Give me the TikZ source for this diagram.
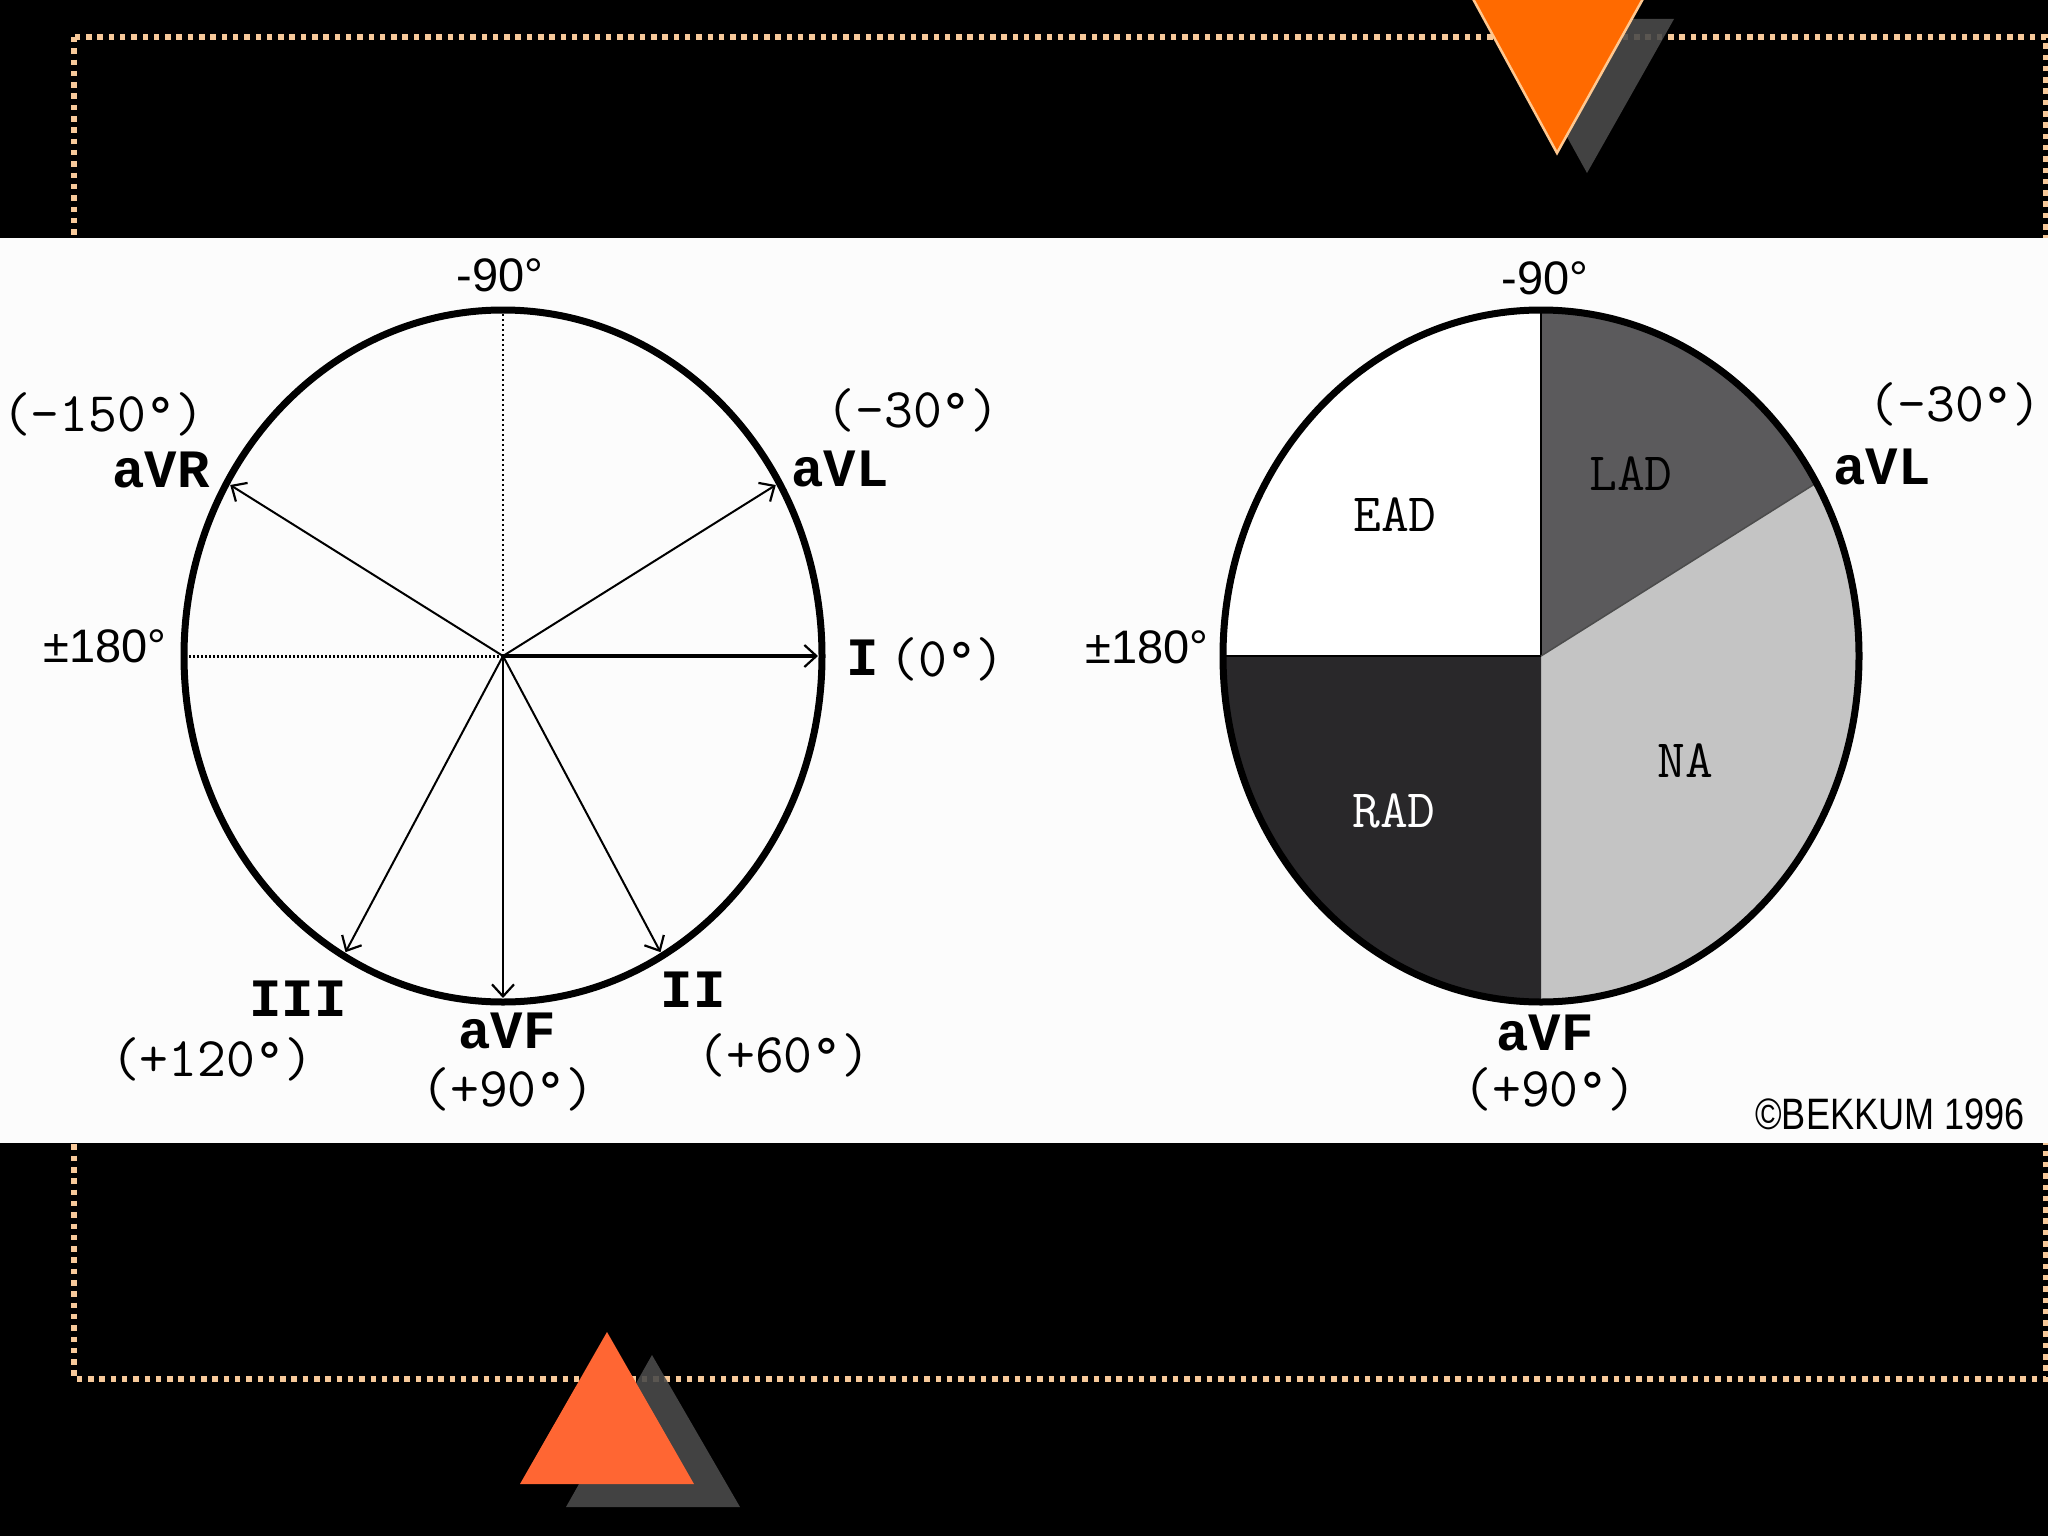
\documentclass[tikz,border=0pt]{standalone}
\usepackage{fontspec}
\setmainfont{Liberation Serif}
\newfontfamily\monof{Liberation Mono}
\newfontfamily\sansf{Liberation Sans}
\usetikzlibrary{arrows.meta}
\definecolor{framecol}{HTML}{F7C99A}
\definecolor{orangeA}{HTML}{FF6A00}
\definecolor{orangeB}{HTML}{FF6633}
\definecolor{peach}{HTML}{FFC890}
\definecolor{shadowgray}{HTML}{4A4A4A}
\definecolor{bandwhite}{HTML}{FCFCFC}
\definecolor{ladgray}{HTML}{5B5A5C}
\definecolor{nagray}{HTML}{C4C4C4}
\definecolor{radgray}{HTML}{29282A}
\tikzset{
  deg/.style={inner sep=0pt, outer sep=0pt, font=\ttfamily\fontsize{56}{60}\selectfont},
  lead/.style={inner sep=0pt, outer sep=0pt, font=\monof\bfseries\fontsize{54}{58}\selectfont},
  sdeg/.style={inner sep=0pt, outer sep=0pt, font=\sansf\fontsize{47}{52}\selectfont},
  zone/.style={inner sep=0pt, outer sep=0pt, font=\ttfamily\fontsize{54}{58}\selectfont},
  rim/.style={line width=7pt},
  arr/.style={line width=2pt, -{Straight Barb[length=12pt,width=22pt,line width=2.2pt]}},
  dotline/.style={line width=2.5pt, dash pattern=on 2.5pt off 2.5pt},
}
\begin{document}
\begin{tikzpicture}[x=1pt,y=-1pt]
\useasboundingbox (0,0) rectangle (2048,1536);
\fill[black] (0,0) rectangle (2048,1536);
% frame
\draw[framecol, line width=5.5pt, dash pattern=on 5.5pt off 5.8pt] (74,37) rectangle (2046,1379);
% triangles
\fill[shadowgray, opacity=0.9] (1502,19) -- (1674,19) -- (1587,173) -- cycle;
\filldraw[fill=orangeA, draw=peach, line width=2.5pt, line join=miter] (1472,-3) -- (1644,-3) -- (1557,153) -- cycle;
\fill[shadowgray, opacity=0.9] (652,1355) -- (740,1507) -- (566,1507) -- cycle;
\fill[orangeB] (607,1332) -- (694,1484) -- (520,1484) -- cycle;
% white band
\fill[bandwhite] (0,238) rectangle (2048,1143);

% ---------- left diagram ----------
\coordinate (Lc) at (503,656);
\coordinate (Ltop) at (503,313);
\coordinate (Lleft) at (188,656);
\coordinate (LI) at ({503+315},656);
\coordinate (LaVL) at ({503+315*cos(-30)},{656+342*sin(-30)});
\coordinate (LaVR) at ({503+315*cos(-150)},{656+342*sin(-150)});
\coordinate (LII) at ({503+315*cos(60)},{656+342*sin(60)});
\coordinate (LIII) at ({503+315*cos(120)},{656+342*sin(120)});
\coordinate (LaVF) at (503,{656+342});
\draw[dotline] (Lc) -- (Ltop);
\draw[dotline, line width=3pt, dash pattern=on 2pt off 2pt] (Lc) -- (Lleft);
\draw[arr] (Lc) -- (LaVL);
\draw[arr] (Lc) -- (LaVR);
\draw[arr] (Lc) -- (LII);
\draw[arr] (Lc) -- (LIII);
\draw[arr] (Lc) -- (LaVF);
\draw[arr, line width=3.5pt] (Lc) -- (LI);
\draw[rim] (Lc) ellipse [x radius=319, y radius=346];

\node[sdeg] (Lm90) at (500,275) {-90°};
\node[deg] (Lm150) at (103,414) {(-150°)};
\node[lead] (LtaVR) at (161,470) {aVR};
\node[deg] (Lm30) at (913,410) {(-30°)};
\node[lead] (LtaVL) at (840,469) {aVL};
\node[sdeg] (L180) at (105,646) {±180°};
\node[lead] (LtI) at (863,658) {I};
\node[deg] (L0) at (947,659) {(0°)};
\node[lead] (LtIII) at (298,999) {III};
\node[deg] (L120) at (212,1059) {(+120°)};
\node[lead] (LtaVF) at (507,1031) {aVF};
\node[deg] (L90) at (508,1089) {(+90°)};
\node[lead] (LtII) at (693,990) {II};
\node[deg] (L60) at (784,1055) {(+60°)};

% ---------- right diagram ----------
\coordinate (Rc) at (1541,656);
\fill[white] (Rc) -- plot[domain=-180:-90, samples=40] ({1541+318*cos(\x)},{656+346*sin(\x)}) -- cycle;
\fill[ladgray] (Rc) -- plot[domain=-90:-30, samples=30] ({1541+318*cos(\x)},{656+346*sin(\x)}) -- cycle;
\fill[nagray] (Rc) -- plot[domain=-30:90, samples=60] ({1541+318*cos(\x)},{656+346*sin(\x)}) -- cycle;
\fill[radgray] (Rc) -- plot[domain=90:180, samples=40] ({1541+318*cos(\x)},{656+346*sin(\x)}) -- cycle;
\coordinate (Rtop) at (1541,312);
\coordinate (Rleft) at (1225,656);
\coordinate (RaVL) at ({1541+316*cos(-30)},{656+344*sin(-30)});
\draw[black, line width=2.5pt] (Rc) -- (Rtop);
\draw[black, line width=2.5pt] (Rc) -- (Rleft);
\draw[black!70, line width=1.5pt] (Rc) -- (RaVL);
\draw[rim] (Rc) ellipse [x radius=318, y radius=346];

\node[sdeg] (Rm90) at (1545,278) {-90°};
\node[deg] (Rm30) at (1955,404) {(-30°)};
\node[lead] (RtaVL) at (1882,467) {aVL};
\node[zone] (RLAD) at (1631,474) {LAD};
\node[zone] (READ) at (1395,515) {EAD};
\node[sdeg] (R180) at (1147,647) {±180°};
\node[zone] (RNA) at (1685,761) {NA};
\node[zone, text=white] (RRAD) at (1394,811) {RAD};
\node[lead] (RtaVF) at (1545,1033) {aVF};
\node[deg] (R90) at (1550,1089) {(+90°)};
\node[inner sep=0pt, font=\sansf\fontsize{44}{48}\selectfont] (Rcopy) at (1890,1114) {\scalebox{0.82}[1]{©BEKKUM 1996}};
\end{tikzpicture}
\end{document}
